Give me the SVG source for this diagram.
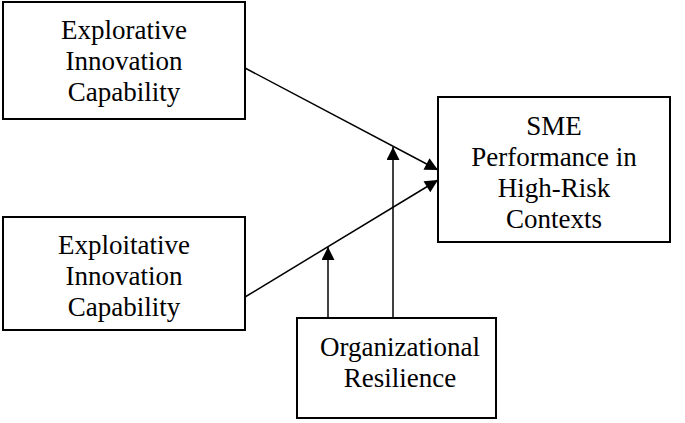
<svg xmlns="http://www.w3.org/2000/svg" width="685" height="423" viewBox="0 0 685 423">
<style>
.box{fill:#fff;stroke:#000;stroke-width:2}
.t{font-family:'Liberation Serif','Times New Roman','DejaVu Serif',serif;font-size:27px;text-anchor:middle;fill:#000}
.c{stroke:#000;stroke-width:1.5;fill:none;marker-end:url(#a)}
</style>
<defs><marker id="a" viewBox="0 0 10 10" refX="10" refY="5" markerWidth="16" markerHeight="13" markerUnits="userSpaceOnUse" orient="auto"><path d="M0,0L10,5L0,10z" fill="#000"/></marker></defs>
<rect width="685" height="423" fill="#fff"/>
<g id="n1"><rect class="box" x="3" y="2" width="242" height="117"/><text class="t" x="124" y="39">Explorative</text><text class="t" x="124" y="70">Innovation</text><text class="t" x="124" y="101">Capability</text></g>
<g id="n2"><rect class="box" x="3" y="217" width="242" height="113"/><text class="t" x="124" y="254">Exploitative</text><text class="t" x="124" y="285">Innovation</text><text class="t" x="124" y="316">Capability</text></g>
<g id="n3"><rect class="box" x="438" y="97" width="232" height="145"/><text class="t" x="554" y="135">SME</text><text class="t" x="554" y="166">Performance in</text><text class="t" x="554" y="197">High-Risk</text><text class="t" x="554" y="228">Contexts</text></g>
<g id="n4"><rect class="box" x="297" y="318" width="199" height="100"/><text class="t" x="400" y="356">Organizational</text><text class="t" x="400" y="387">Resilience</text></g>
<g id="edges">
<path class="c" d="M245,68L438,170"/>
<path class="c" d="M245,297L438,180"/>
<path class="c" d="M393,318L393,147"/>
<path class="c" d="M328,318L328,247"/>
</g>
</svg>
